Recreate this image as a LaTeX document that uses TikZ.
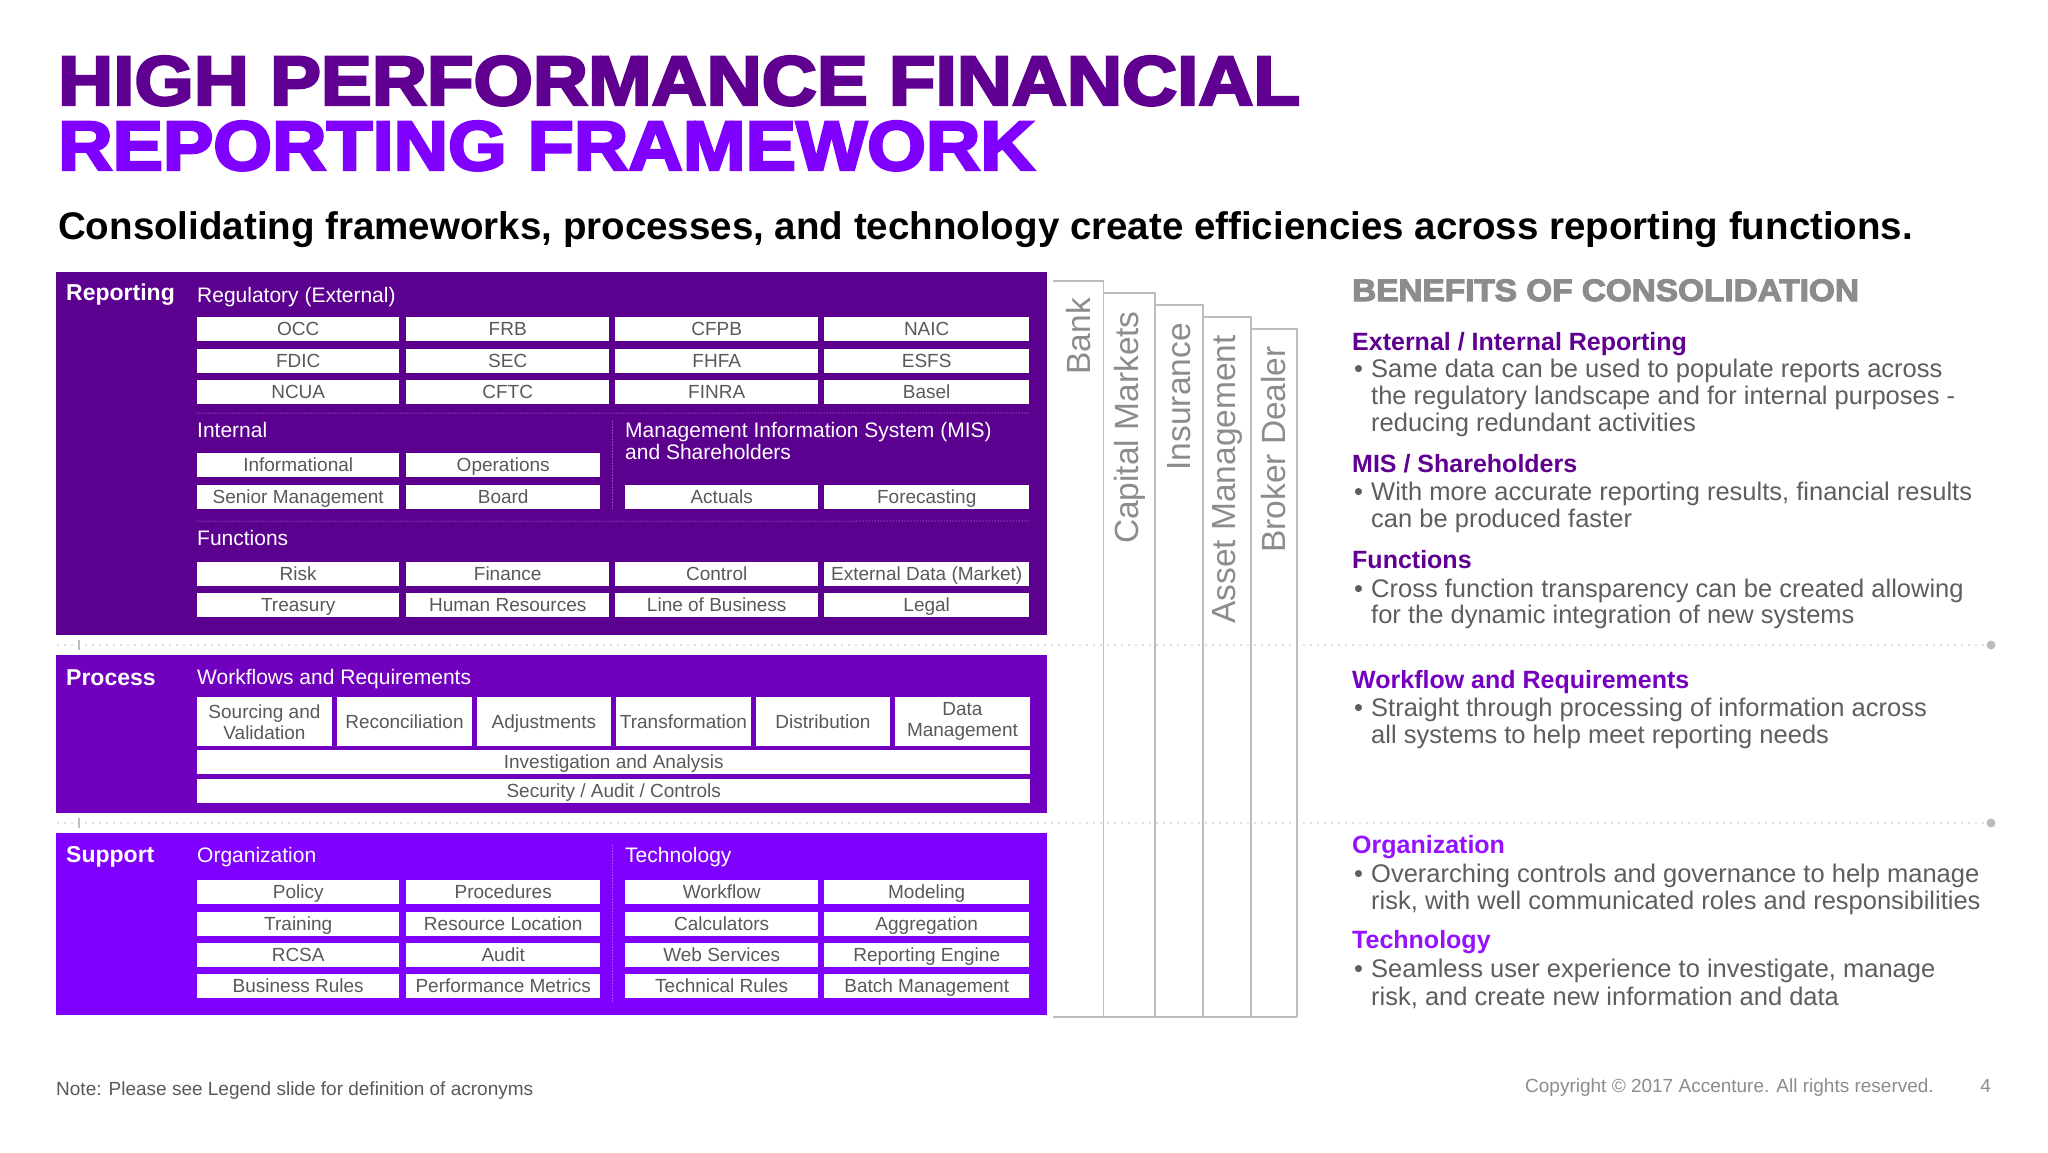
\documentclass[tikz,border=0pt]{standalone}
\usepackage{fontspec}
\setmainfont{Liberation Sans}
\newfontfamily\heavy[FakeBold=3.5]{Liberation Sans Bold}
\definecolor{tpurpleA}{HTML}{5F0091}
\definecolor{tpurpleB}{HTML}{8000FF}
\definecolor{repc}{HTML}{5C0090}
\definecolor{proc}{HTML}{7100BE}
\definecolor{supc}{HTML}{8000FF}
\definecolor{hdA}{HTML}{5F0091}
\definecolor{hdB}{HTML}{7500C0}
\definecolor{hdC}{HTML}{9612FF}
\definecolor{cellgray}{HTML}{595959}
\definecolor{bodygray}{HTML}{5E5E5E}
\definecolor{lightgray}{HTML}{8C8C8C}
\definecolor{linegray}{HTML}{BDBDBD}
\definecolor{idotc}{HTML}{D8C4F0}
\tikzset{
  box/.style={anchor=north west, inner sep=0, draw=none},
  cellbase/.style={anchor=north west, inner sep=0, fill=white, minimum height=24pt,
    minimum width=#1, text=cellgray, font=\fontsize{19}{21}\selectfont, align=center},
  cell/.style={cellbase=#1, text height=15pt, text depth=1.5pt},
  lab/.style={anchor=base west, inner sep=0, text=white, font=\bfseries\fontsize{23}{26}\selectfont},
  sub/.style={anchor=base west, inner sep=0, text=white, font=\fontsize{21}{24}\selectfont},
  idot/.style={idotc, line width=1pt, line cap=round, dash pattern=on 0pt off 3pt},
  odot/.style={linegray, line width=1.8pt, line cap=round, dash pattern=on 0pt off 7pt},
  colline/.style={linegray, line width=1.6pt},
  vlab/.style={rotate=90, anchor=east, inner sep=0, text=lightgray, font=\fontsize{33.5}{36}\selectfont},
  hd/.style={anchor=base west, inner sep=0, font=\bfseries\fontsize{25}{28}\selectfont},
  bt/.style={anchor=base west, inner sep=0, text=bodygray, font=\fontsize{25.5}{28}\selectfont},
  bul/.style={anchor=base west, inner sep=0, text=bodygray, font=\fontsize{25.5}{28}\selectfont},
}
\begin{document}
\begin{tikzpicture}[x=1pt,y=-1pt]
\useasboundingbox (0,0) rectangle (2048,1152);
\fill[white] (0,0) rectangle (2048,1152);

% titles
\node[anchor=base west, inner sep=0, text=tpurpleA, font=\heavy\fontsize{70}{80}\selectfont] (t1) at (58,105) {\scalebox{1.09}[1]{HIGH PERFORMANCE FINANCIAL}};
\node[anchor=base west, inner sep=0, text=tpurpleB, font=\heavy\fontsize{70}{80}\selectfont] (t2) at (58,170) {\scalebox{1.078}[1]{REPORTING FRAMEWORK}};
\node[anchor=base west, inner sep=0, text=black, font=\bfseries\fontsize{38.5}{44}\selectfont] (subt) at (58,239) {Consolidating frameworks, processes, and technology create efficiencies across reporting functions.};

% ---------- Reporting ----------
\node[box, fill=repc, minimum width=991pt, minimum height=363pt] (repbox) at (56,272) {};
\node[lab] (replab) at (66,300) {Reporting};
\node[sub] (regext) at (197,302) {Regulatory (External)};
\node[cell=202pt] (occ) at (197,317) {OCC};
\node[cell=203pt] (frb) at (406,317) {FRB};
\node[cell=203pt] (cfpb) at (615,317) {CFPB};
\node[cell=205pt] (naic) at (824,317) {NAIC};
\node[cell=202pt] (fdic) at (197,348.5) {FDIC};
\node[cell=203pt] (sec) at (406,348.5) {SEC};
\node[cell=203pt] (fhfa) at (615,348.5) {FHFA};
\node[cell=205pt] (esfs) at (824,348.5) {ESFS};
\node[cell=202pt] (ncua) at (197,380) {NCUA};
\node[cell=203pt] (cftc) at (406,380) {CFTC};
\node[cell=203pt] (finra) at (615,380) {FINRA};
\node[cell=205pt] (basel) at (824,380) {Basel};
\draw[idot] (197,413) -- (1030,413);
\node[sub] (intlab) at (197,437) {Internal};
\node[sub] (mislab) at (625,437) {Management Information System (MIS)};
\node[sub] (mislab2) at (625,459.5) {and Shareholders};
\node[cell=202pt] (info) at (197,453) {Informational};
\node[cell=194pt] (oper) at (406,453) {Operations};
\node[cell=202pt] (senior) at (197,484.5) {Senior Management};
\node[cell=194pt] (board) at (406,484.5) {Board};
\node[cell=193pt] (actuals) at (625,484.5) {Actuals};
\node[cell=205pt] (forecast) at (824,484.5) {Forecasting};
\draw[idot] (612.5,421) -- (612.5,510);
\draw[idot] (197,521) -- (1030,521);
\node[sub] (funclab) at (197,545) {Functions};
\node[cell=202pt] (risk) at (197,562) {Risk};
\node[cell=203pt] (finance) at (406,562) {Finance};
\node[cell=203pt] (control) at (615,562) {Control};
\node[cell=205pt] (extdata) at (824,562) {External Data (Market)};
\node[cell=202pt] (treasury) at (197,593) {Treasury};
\node[cell=203pt] (hr) at (406,593) {Human Resources};
\node[cell=203pt] (lob) at (615,593) {Line of Business};
\node[cell=205pt] (legal) at (824,593) {Legal};

% ---------- Process ----------
\node[box, fill=proc, minimum width=991pt, minimum height=158pt] (probox) at (56,655) {};
\node[lab] (prolab) at (66,685) {Process};
\node[sub] (wflab) at (197,684) {Workflows and Requirements};
\node[cellbase=134.5pt, minimum height=49pt] (sourcing) at (197,697) {Sourcing and\\Validation};
\node[cell=134.5pt, minimum height=49pt] (recon) at (337,697) {Reconciliation};
\node[cell=134.5pt, minimum height=49pt] (adjust) at (476.5,697) {Adjustments};
\node[cell=134.5pt, minimum height=49pt] (transf) at (616,697) {Transformation};
\node[cell=134.5pt, minimum height=49pt] (distrib) at (755.5,697) {Distribution};
\node[cellbase=134.5pt, minimum height=49pt] (datamgmt) at (895,697) {Data\\Management};
\node[cell=833pt] (invest) at (197,750) {Investigation and Analysis};
\node[cell=833pt] (secur) at (197,779) {Security / Audit / Controls};

% ---------- Support ----------
\node[box, fill=supc, minimum width=991pt, minimum height=182pt] (supbox) at (56,833) {};
\node[lab] (suplab) at (66,862) {Support};
\node[sub] (orglab) at (197,862) {Organization};
\node[sub] (techlab) at (625,862) {Technology};
\draw[idot] (612.5,845) -- (612.5,1002);
\node[cell=202pt] (policy) at (197,880) {Policy};
\node[cell=194pt] (proced) at (406,880) {Procedures};
\node[cell=193pt] (workflow) at (625,880) {Workflow};
\node[cell=205pt] (modeling) at (824,880) {Modeling};
\node[cell=202pt] (training) at (197,911.5) {Training};
\node[cell=194pt] (resloc) at (406,911.5) {Resource Location};
\node[cell=193pt] (calc) at (625,911.5) {Calculators};
\node[cell=205pt] (aggr) at (824,911.5) {Aggregation};
\node[cell=202pt] (rcsa) at (197,943) {RCSA};
\node[cell=194pt] (audit) at (406,943) {Audit};
\node[cell=193pt] (websvc) at (625,943) {Web Services};
\node[cell=205pt] (repeng) at (824,943) {Reporting Engine};
\node[cell=202pt] (busrules) at (197,974) {Business Rules};
\node[cell=194pt] (perfm) at (406,974) {Performance Metrics};
\node[cell=193pt] (techrules) at (625,974) {Technical Rules};
\node[cell=205pt] (batch) at (824,974) {Batch Management};

% ---------- industry columns ----------
\draw[colline] (1053,281) -- (1103.5,281) -- (1103.5,1017);
\draw[colline] (1103.5,293) -- (1155,293) -- (1155,1017);
\draw[colline] (1155,305) -- (1203,305) -- (1203,1017);
\draw[colline] (1203,317) -- (1251,317) -- (1251,1017);
\draw[colline] (1251,329) -- (1297,329) -- (1297,1017);
\draw[colline] (1053,1017) -- (1297,1017);
\node[vlab] (bank) at (1078.5,298) {Bank};
\node[vlab] (capm) at (1129.5,311) {Capital Markets};
\node[vlab] (insur) at (1179,323) {Insurance};
\node[vlab] (assetm) at (1227,335) {Asset Management};
\node[vlab] (broker) at (1274,346) {Broker Dealer};

% ---------- separators ----------
\draw[odot] (58,645) -- (1990,645);
\draw[odot] (58,823) -- (1990,823);
\draw[linegray, line width=1.2pt] (79,640) -- (79,650);
\draw[linegray, line width=1.2pt] (79,818) -- (79,828);
\fill[linegray] (1991,645) circle (4.5);
\fill[linegray] (1991,823) circle (4.5);

% ---------- benefits ----------
\node[anchor=base west, inner sep=0, text=lightgray, font=\heavy\fontsize{31}{34}\selectfont] (benef) at (1352,301) {\scalebox{1.075}[1]{BENEFITS OF CONSOLIDATION}};

\node[hd, text=hdA] (h1) at (1352,350) {External / Internal Reporting};
\node[bul] (b1) at (1354,377) {•};
\node[bt] (b1a) at (1371,377) {Same data can be used to populate reports across};
\node[bt] (b1b) at (1371,404) {the regulatory landscape and for internal purposes -};
\node[bt] (b1c) at (1371,431.5) {reducing redundant activities};

\node[hd, text=hdA] (h2) at (1352,472) {MIS / Shareholders};
\node[bul] (b2) at (1354,500) {•};
\node[bt] (b2a) at (1371,500) {With more accurate reporting results, financial results};
\node[bt] (b2b) at (1371,527) {can be produced faster};

\node[hd, text=hdA] (h3) at (1352,568) {Functions};
\node[bul] (b3) at (1354,597) {•};
\node[bt] (b3a) at (1371,597) {Cross function transparency can be created allowing};
\node[bt] (b3b) at (1371,623.5) {for the dynamic integration of new systems};

\node[hd, text=hdB] (h4) at (1352,688) {Workflow and Requirements};
\node[bul] (b4) at (1354,716) {•};
\node[bt] (b4a) at (1371,716) {Straight through processing of information across};
\node[bt] (b4b) at (1371,743) {all systems to help meet reporting needs};

\node[hd, text=hdC] (h5) at (1352,853) {Organization};
\node[bul] (b5) at (1354,882) {•};
\node[bt] (b5a) at (1371,882) {Overarching controls and governance to help manage};
\node[bt] (b5b) at (1371,909) {risk, with well communicated roles and responsibilities};

\node[hd, text=hdC] (h6) at (1352,948) {Technology};
\node[bul] (b6) at (1354,977) {•};
\node[bt] (b6a) at (1371,977) {Seamless user experience to investigate, manage};
\node[bt] (b6b) at (1371,1005) {risk, and create new information and data};

% ---------- footer ----------
\node[anchor=base west, inner sep=0, text=cellgray, font=\fontsize{19}{22}\selectfont] (note) at (56,1095) {Note: Please see Legend slide for definition of acronyms};
\node[anchor=base east, inner sep=0, text=lightgray, font=\fontsize{19}{22}\selectfont] (copy) at (1934,1092) {Copyright © 2017 Accenture. All rights reserved.};
\node[anchor=base east, inner sep=0, text=lightgray, font=\fontsize{19}{22}\selectfont] (pnum) at (1991,1092) {4};
\end{tikzpicture}
\end{document}
